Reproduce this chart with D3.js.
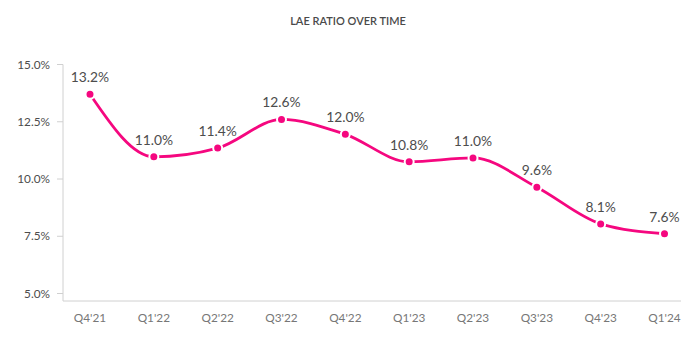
<!DOCTYPE html>
<html>
<head>
<meta charset="utf-8">
<script src="https://cdn.jsdelivr.net/npm/d3@7"></script>
<style>
  html, body { margin: 0; padding: 0; background: #fff; }
  svg { display: block; font-family: Lato, "Open Sans", sans-serif; }
</style>
</head>
<body>
<svg id="chart" width="694" height="337"></svg>
<script>
const categories = ["Q4'21", "Q1'22", "Q2'22", "Q3'22", "Q4'22", "Q1'23", "Q2'23", "Q3'23", "Q4'23", "Q1'24"];
const values = [13.7, 10.97, 11.35, 12.6, 11.95, 10.75, 10.92, 9.64, 8.04, 7.61];
const pointLabels = ["13.2%", "11.0%", "11.4%", "12.6%", "12.0%", "10.8%", "11.0%", "9.6%", "8.1%", "7.6%"];
const yTicks = [5, 7.5, 10, 12.5, 15];
const title = "LAE RATIO OVER TIME";

const svg = d3.select("#chart");
const axisLeft = 63, axisRight = 681, axisBottom = 301;

const x = d3.scalePoint().domain(categories).range([90, 664.5]);
const y = d3.scaleLinear().domain([5, 15]).range([293.5, 64.5]);

svg.append("text")
  .attr("x", 348).attr("y", 25)
  .attr("text-anchor", "middle")
  .attr("font-size", 11).attr("font-weight", 600)
  .attr("fill", "#4a4a4a")
  .text(title);

// Y axis
const gy = svg.append("g");
gy.append("line")
  .attr("x1", axisLeft).attr("x2", axisLeft)
  .attr("y1", y(15)).attr("y2", axisBottom)
  .attr("stroke", "#d0d0d0").attr("stroke-width", 1);
gy.selectAll("line.tick").data(yTicks).join("line")
  .attr("class", "tick")
  .attr("x1", axisLeft - 6).attr("x2", axisLeft)
  .attr("y1", d => y(d)).attr("y2", d => y(d))
  .attr("stroke", "#d0d0d0");
gy.selectAll("text").data(yTicks).join("text")
  .attr("x", 50).attr("y", d => y(d))
  .attr("dy", "0.35em")
  .attr("text-anchor", "end")
  .attr("font-size", 11.8)
  .attr("fill", "#4d4d4d")
  .text(d => d.toFixed(1) + "%");

// X axis
const gx = svg.append("g");
gx.append("line")
  .attr("x1", axisLeft).attr("x2", axisRight)
  .attr("y1", axisBottom).attr("y2", axisBottom)
  .attr("stroke", "#d0d0d0");
gx.selectAll("text").data(categories).join("text")
  .attr("x", d => x(d)).attr("y", 322)
  .attr("text-anchor", "middle")
  .attr("font-size", 11.8)
  .attr("fill", "#777")
  .text(d => d);

const color = "#f5077f";
const line = d3.line()
  .x((d, i) => x(categories[i]))
  .y(d => y(d))
  .curve(d3.curveMonotoneX);

svg.append("path")
  .datum(values)
  .attr("d", line)
  .attr("fill", "none")
  .attr("stroke", color)
  .attr("stroke-width", 2.8);

svg.selectAll("circle.pt").data(values).join("circle")
  .attr("class", "pt")
  .attr("cx", (d, i) => x(categories[i]))
  .attr("cy", d => y(d))
  .attr("r", 4.5)
  .attr("fill", color)
  .attr("stroke", "#fff")
  .attr("stroke-width", 2);

svg.selectAll("text.lbl").data(values).join("text")
  .attr("class", "lbl")
  .attr("x", (d, i) => x(categories[i]))
  .attr("y", d => y(d) - 12)
  .attr("text-anchor", "middle")
  .attr("font-size", 13.8)
  .attr("fill", "#4d4d4d")
  .text((d, i) => pointLabels[i]);
</script>
</body>
</html>
